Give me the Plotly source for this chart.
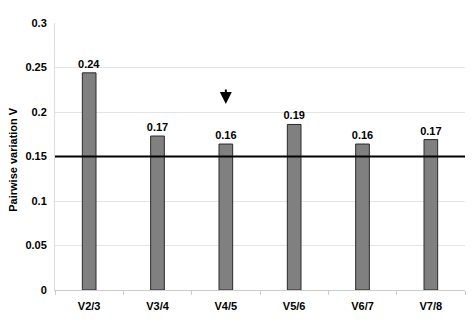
import plotly.graph_objects as go

# Pairwise variation of normalisation factors (geNorm V values)
pairs = ["V2/3", "V3/4", "V4/5", "V5/6", "V6/7", "V7/8"]
variation = [0.244, 0.173, 0.164, 0.186, 0.164, 0.169]
cutoff = 0.15
marked_pair = "V4/5"
y_ticks = [0, 0.05, 0.1, 0.15, 0.2, 0.25, 0.3]
y_tick_labels = ["0", "0.05", "0.1", "0.15", "0.2", "0.25", "0.3"]
y_title = "Pairwise variation V"

font_family = "Liberation Sans, Arial, sans-serif"

fig = go.Figure()
fig.add_trace(go.Bar(
    x=pairs,
    y=variation,
    marker=dict(color="#808080", line=dict(color="#2a2a2a", width=1)),
    text=[f"{v:.2f}" for v in variation],
    textposition="outside",
    textangle=0,
    constraintext="none",
    outsidetextfont=dict(family=font_family, size=11, color="black", weight="bold"),
    cliponaxis=False,
))

# threshold line at V = 0.15
fig.add_shape(type="line", xref="paper", yref="y", x0=0, x1=1,
              y0=cutoff, y1=cutoff, line=dict(color="black", width=2))

# arrow marking the chosen pair
fig.add_annotation(x=marked_pair, y=0.209, ax=0, ay=-16, axref="pixel", ayref="pixel",
                   showarrow=True, arrowhead=2, arrowsize=1.2, arrowwidth=2,
                   arrowcolor="black", text="")

# rotated y-axis title, placed a little inside the left margin
fig.add_annotation(text=y_title, xref="paper", yref="paper", x=-0.101, y=0.49,
                   xanchor="center", yanchor="middle", textangle=-90, showarrow=False,
                   font=dict(family=font_family, size=11, color="black", weight="bold"))

fig.update_layout(
    width=474, height=323,
    margin=dict(l=55, r=9, t=23, b=33),
    paper_bgcolor="white", plot_bgcolor="white",
    showlegend=False,
    bargap=0.8,
    font=dict(family=font_family, size=11, color="black"),
)
fig.update_xaxes(
    type="category",
    tickson="boundaries", ticks="outside", ticklen=4, tickcolor="#cccccc",
    showline=True, linecolor="#cccccc", linewidth=1,
    ticklabelstandoff=6,
    automargin=False,
    tickfont=dict(family=font_family, size=11, color="black", weight="bold"),
    showgrid=False,
)
fig.update_yaxes(
    range=[0, 0.3], tickvals=y_ticks, ticktext=y_tick_labels,
    showgrid=True, gridcolor="#e4e4e4", gridwidth=1,
    showline=True, linecolor="#dddddd", linewidth=1,
    zeroline=False,
    automargin=False,
    ticks="", ticklabelstandoff=5,
    tickfont=dict(family=font_family, size=11, color="black", weight="bold"),
)

fig.write_html("out.html")
